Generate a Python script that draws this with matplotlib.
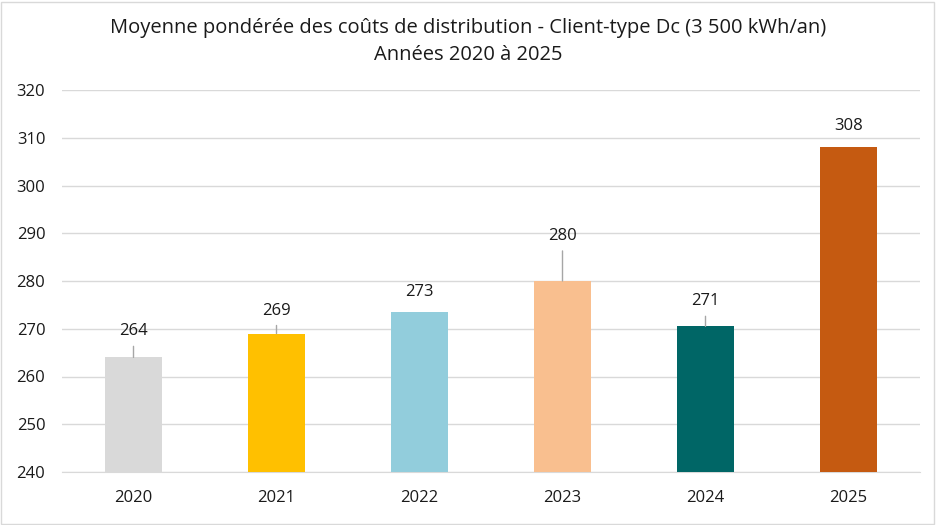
import matplotlib.pyplot as plt
from matplotlib.patches import Rectangle

years = ["2020", "2021", "2022", "2023", "2024", "2025"]
values = [264, 269, 273.5, 280, 270.5, 308]
labels = ["264", "269", "273", "280", "271", "308"]
colors = ["#D9D9D9", "#FFC000", "#92CDDC", "#F9BF8F", "#006666", "#C55A11"]

# label offsets above bar top (pixels), leader line when far from bar
offsets = [26, 23, 20, 45, 25, 21]

plt.rcParams['font.family'] = ['Open Sans', 'DejaVu Sans']

fig = plt.figure(figsize=(9.36, 5.25), dpi=100)
ax = fig.add_axes([62 / 936, 1 - 472 / 525, 858 / 936, 382 / 525])

x = range(len(years))
ax.bar(x, values, width=0.4, color=colors, zorder=3)

ax.set_ylim(240, 320)
ax.set_xlim(-0.5, len(years) - 0.5)
ax.set_yticks(range(240, 321, 10))
ax.set_xticks(list(x))
ax.set_xticklabels(years)
ax.tick_params(axis='both', length=0, labelsize=12, colors='#1a1a1a')
ax.tick_params(axis='y', pad=12)
ax.tick_params(axis='x', pad=13)
ax.grid(axis='y', color='#D9D9D9', linewidth=1, zorder=0)
for s in ['top', 'right', 'left']:
    ax.spines[s].set_visible(False)
ax.spines['bottom'].set_color('#D9D9D9')

for i, (v, lab, off) in enumerate(zip(values, labels, offsets)):
    arrow = None
    if off > 22:
        arrow = dict(arrowstyle='-', color='#A6A6A6', lw=1, shrinkA=3, shrinkB=0)
    ax.annotate(lab, xy=(i, v), xytext=(0, off * 0.72), textcoords='offset points',
                ha='center', va='center', fontsize=12, color='#1a1a1a',
                arrowprops=arrow, zorder=4)

fig.text(0.5, 1 - 28 / 525, "Moyenne pondérée des coûts de distribution - Client-type Dc (3 500 kWh/an)",
         ha='center', va='center', fontsize=14.5, color='#1a1a1a')
fig.text(0.5, 1 - 55 / 525, "Années 2020 à 2025",
         ha='center', va='center', fontsize=14.5, color='#1a1a1a')

fig.patches.append(Rectangle((1 / 936, 1 / 525), 933 / 936, 522 / 525, transform=fig.transFigure,
                             fill=False, edgecolor='#D9D9D9', linewidth=1))

fig.savefig("out.png", dpi=100)
